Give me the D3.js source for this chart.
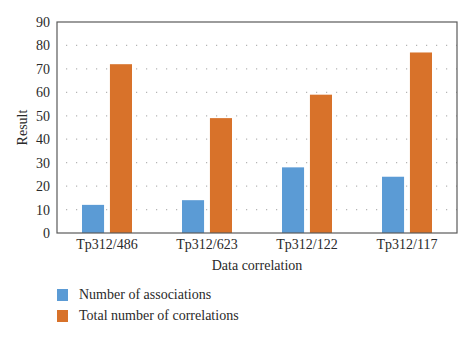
<!DOCTYPE html>
<html><head><meta charset="utf-8">
<script src="https://cdn.jsdelivr.net/npm/d3@7"></script>
<style>body{margin:0;background:#fff} text{font-family:"Liberation Serif","Times New Roman",serif !important}</style>
</head><body><svg id="c" width="474" height="338"></svg>
<script>
const categories = ["Tp312/486", "Tp312/623", "Tp312/122", "Tp312/117"];
const seriesNames = ["Number of associations", "Total number of correlations"];
const associations = [12, 14, 28, 24];
const correlations = [72, 49, 59, 77];
const yTicks = [0, 10, 20, 30, 40, 50, 60, 70, 80, 90];
const colors = ["#5b9bd5", "#d8722a"];

const svg = d3.select("#c");
const font = "Liberation Serif";
const fs = 14;
const L = 57, R = 457, T = 22, B = 233;
const x0 = d3.scaleBand().domain(categories).range([L, R]).paddingInner(0.5).paddingOuter(0.25);
const x1 = d3.scaleBand().domain(seriesNames).range([0, x0.bandwidth()]).paddingInner(0.21);
const y = d3.scaleLinear().domain([0, 90]).range([B, T]);
const seriesVals = [associations, correlations];

// grid
svg.append("g").selectAll("line").data(yTicks.filter(t => t > 0 && t < 90)).join("line")
  .attr("x1", L + 9).attr("x2", R).attr("y1", d => y(d)).attr("y2", d => y(d))
  .attr("stroke", "#b5b5b5").attr("stroke-width", 1.2).attr("stroke-dasharray", "1.2,8.8");

// bars
categories.forEach((c, i) => {
  seriesNames.forEach((s, j) => {
    svg.append("rect").attr("x", x0(c) + x1(s)).attr("width", x1.bandwidth())
      .attr("y", y(seriesVals[j][i])).attr("height", y(0) - y(seriesVals[j][i]))
      .attr("fill", colors[j]);
  });
});

// frame
svg.append("rect").attr("x", L).attr("y", T).attr("width", R - L).attr("height", B - T)
  .attr("fill", "none").attr("stroke", "#5a5a5a").attr("stroke-width", 1.2);

// y axis
const ya = svg.append("g").attr("transform", `translate(${L},0)`)
  .call(d3.axisLeft(y).tickValues(yTicks).tickSize(0).tickPadding(7));
ya.attr("font-family", font).attr("font-size", fs);
ya.select(".domain").remove();
ya.selectAll("text").attr("fill", "#2a2a2a");

// x axis
const xa = svg.append("g").attr("transform", `translate(0,${B})`)
  .call(d3.axisBottom(x0).tickSize(0).tickPadding(6));
xa.attr("font-family", font).attr("font-size", fs);
xa.select(".domain").remove();
xa.selectAll("text").attr("fill", "#2a2a2a");

// titles
svg.append("text").attr("x", (L + R) / 2).attr("y", 270).attr("text-anchor", "middle")
  .attr("font-family", font).attr("font-size", fs).attr("fill", "#2a2a2a").text("Data correlation");
svg.append("text").attr("transform", `translate(27,${(T + B) / 2}) rotate(-90)`).attr("text-anchor", "middle")
  .attr("font-family", font).attr("font-size", fs).attr("fill", "#2a2a2a").text("Result");

// legend
seriesNames.forEach((s, j) => {
  const ly = 289 + j * 21;
  svg.append("rect").attr("x", 57).attr("y", ly).attr("width", 11).attr("height", 12).attr("fill", colors[j]);
  svg.append("text").attr("x", 79).attr("y", ly + 10).attr("font-family", font).attr("font-size", fs)
    .attr("fill", "#2a2a2a").text(s);
});
</script></body></html>
